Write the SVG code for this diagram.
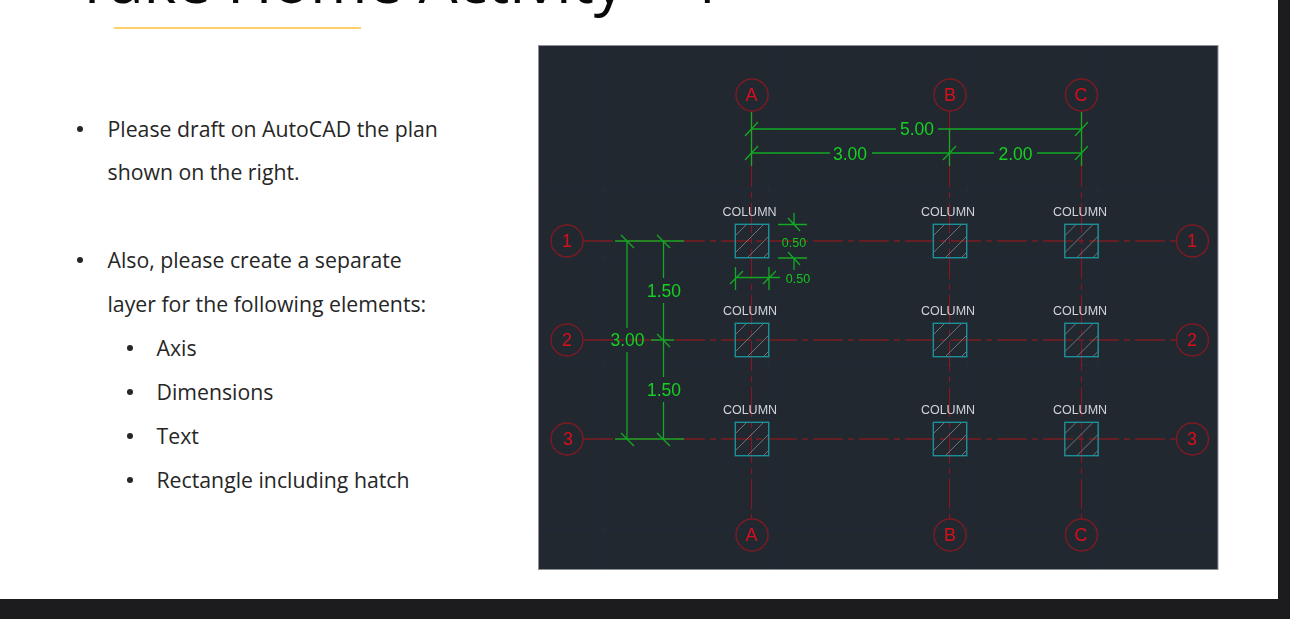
<svg xmlns="http://www.w3.org/2000/svg" width="1290" height="619" viewBox="0 0 1290 619">
<style>
.body{font-family:"Open Sans","Noto Sans",sans-serif;font-size:21.25px;fill:#262626}
.title{font-family:"Open Sans","Noto Sans",sans-serif;font-size:62px;fill:#0a0a0a}
.grid{stroke:#272e37;stroke-width:1;fill:none}
.axis{stroke:#7d1a24;stroke-width:1.3;fill:none;stroke-dasharray:30 5 6 5}
.bub{stroke:#7d1a24;stroke-width:1.4;fill:none}
.bt{font-family:"Liberation Sans",Arial,sans-serif;font-size:18px;fill:#d8101c;text-anchor:middle}
.dim{stroke:#14a824;stroke-width:1.3;fill:none}
.dt{font-family:"Liberation Sans",Arial,sans-serif;font-size:17.5px;fill:#14d020;text-anchor:middle}
.ds{font-family:"Liberation Sans",Arial,sans-serif;font-size:12.5px;fill:#14c420;text-anchor:middle}
.ct{font-family:"Liberation Sans",Arial,sans-serif;font-size:12.5px;fill:#d0d4d8;text-anchor:middle}
.cr{stroke:#1f8f98;stroke-width:1.4;fill:none}
.ha{stroke:#6f747c;stroke-width:1;fill:none}
</style>
<defs>
<filter id="soft" x="0" y="0" width="100%" height="100%"><feGaussianBlur stdDeviation="0.4"/></filter>
<g id="col"><path class="ha" d="M-16.700 -5.300L-5.300 -16.700M-16.700 11.700L11.700 -16.700M-4.700 16.700L16.700 -4.700M11.300 16.700L16.700 11.300"/><rect class="cr" x="-16.700" y="-16.700" width="33.400" height="33.400"/></g>
</defs>
<rect width="1290" height="619" fill="#ffffff"/>
<rect x="1278" y="0" width="12" height="619" fill="#1c1c1e"/>
<rect x="0" y="599" width="1290" height="20" fill="#1c1c1e"/>
<text class="title" x="75" y="3">Take Home Activity – 1</text>
<rect x="114" y="27" width="247" height="2" fill="#fdd167"/>
<g id="text-panel">
<circle cx="80" cy="129" r="3" fill="#262626"/><text class="body" x="107.500" y="136.500">Please draft on AutoCAD the plan</text>
<text class="body" x="107.500" y="179.500">shown on the right.</text>
<circle cx="80" cy="260" r="3" fill="#262626"/><text class="body" x="107.500" y="267.500">Also, please create a separate</text>
<text class="body" x="107.500" y="311.500">layer for the following elements:</text>
<circle cx="130" cy="348" r="3" fill="#262626"/><text class="body" x="156.500" y="355.500">Axis</text>
<circle cx="130" cy="392" r="3" fill="#262626"/><text class="body" x="156.500" y="399.500">Dimensions</text>
<circle cx="130" cy="436" r="3" fill="#262626"/><text class="body" x="156.500" y="443.500">Text</text>
<circle cx="130" cy="480" r="3" fill="#262626"/><text class="body" x="156.500" y="487.500">Rectangle including hatch</text>
</g>
<rect x="538.500" y="45.500" width="679.500" height="524" fill="#212830" stroke="#8d9298" stroke-width="1"/>
<g filter="url(#soft)">
<path class="grid" d="M603 46V569M769 46V569M967 46V569M1098 46V569M539 190H1217M539 258H1217M539 365H1217M539 529H1217"/>
<g id="axes">
<path class="axis" d="M583 241H1177M583 340H1177M583 439H1177"/>
<path class="axis" d="M751.500 111V519M949.500 111V519M1081.500 111V519"/>
</g>
<g id="connectors">
<path class="dim" d="M751.500 112V166M949.500 129V166M1081.500 112V166"/>
<path class="dim" d="M751.500 129H896M938 129H1081.500M751.500 153H830M872 153H994M1037 153H1081.500"/>
<path class="dim" d="M745 136L758 122M745 160L758 146M943 160L956 146M1075 136L1088 122M1075 160L1088 146"/>
<path class="dim" d="M615 241H684M615 439H684M651 340H674M627 241V328M627 352V439M663.500 241V278M663.500 303V377M663.500 402V439"/>
<path class="dim" d="M621 235L634 248M657 235L670 248M657 334L670 347M621 433L634 446M657 433L670 446"/>
<path class="dim" d="M778 224.500H807M778 258H807M794 213V225M794 258V270M735.500 267V290M769 267V290M736 277.500H780M730 284L743 271M763 284L776 271M788 218L800 231M788 252L800 265"/>
</g>
<g id="col-a1"><use href="#col" x="752" y="241"/><text class="ct" x="749.500" y="216">COLUMN</text></g>
<g id="col-b1"><use href="#col" x="950" y="241"/><text class="ct" x="948" y="216">COLUMN</text></g>
<g id="col-c1"><use href="#col" x="1081.500" y="241"/><text class="ct" x="1080" y="216">COLUMN</text></g>
<g id="col-a2"><use href="#col" x="752" y="340"/><text class="ct" x="750" y="315">COLUMN</text></g>
<g id="col-b2"><use href="#col" x="950" y="340"/><text class="ct" x="948" y="315">COLUMN</text></g>
<g id="col-c2"><use href="#col" x="1081.500" y="340"/><text class="ct" x="1080" y="315">COLUMN</text></g>
<g id="col-a3"><use href="#col" x="752" y="439"/><text class="ct" x="750" y="414">COLUMN</text></g>
<g id="col-b3"><use href="#col" x="950" y="439"/><text class="ct" x="948" y="414">COLUMN</text></g>
<g id="col-c3"><use href="#col" x="1081.500" y="439"/><text class="ct" x="1080" y="414">COLUMN</text></g>
<g id="bub-a-top"><circle class="bub" cx="752" cy="95" r="16"/><text class="bt" x="751.500" y="101">A</text></g>
<g id="bub-b-top"><circle class="bub" cx="950" cy="95" r="16"/><text class="bt" x="950" y="101">B</text></g>
<g id="bub-c-top"><circle class="bub" cx="1081.500" cy="95" r="16"/><text class="bt" x="1081" y="101">C</text></g>
<g id="bub-a-bot"><circle class="bub" cx="752" cy="535" r="16"/><text class="bt" x="751.500" y="541">A</text></g>
<g id="bub-b-bot"><circle class="bub" cx="950" cy="535" r="16"/><text class="bt" x="950" y="541">B</text></g>
<g id="bub-c-bot"><circle class="bub" cx="1081.500" cy="535" r="16"/><text class="bt" x="1081" y="541">C</text></g>
<g id="bub-1-l"><circle class="bub" cx="567" cy="241" r="16"/><text class="bt" x="567" y="247">1</text></g>
<g id="bub-2-l"><circle class="bub" cx="567" cy="340" r="16"/><text class="bt" x="567" y="346">2</text></g>
<g id="bub-3-l"><circle class="bub" cx="567" cy="439" r="16"/><text class="bt" x="568" y="445">3</text></g>
<g id="bub-1-r"><circle class="bub" cx="1192.500" cy="241" r="16"/><text class="bt" x="1192" y="247">1</text></g>
<g id="bub-2-r"><circle class="bub" cx="1192.500" cy="340" r="16"/><text class="bt" x="1192" y="346">2</text></g>
<g id="bub-3-r"><circle class="bub" cx="1192.500" cy="439" r="16"/><text class="bt" x="1192" y="445">3</text></g>
<g id="dim-labels">
<text class="dt" x="917" y="135">5.00</text>
<text class="dt" x="850" y="160">3.00</text>
<text class="dt" x="1015.500" y="160">2.00</text>
<text class="dt" x="664" y="297">1.50</text>
<text class="dt" x="627.500" y="346">3.00</text>
<text class="dt" x="664" y="395.500">1.50</text>
<text class="ds" x="794" y="246.500">0.50</text>
<text class="ds" x="798" y="283">0.50</text>
</g>
</g>
</svg>
